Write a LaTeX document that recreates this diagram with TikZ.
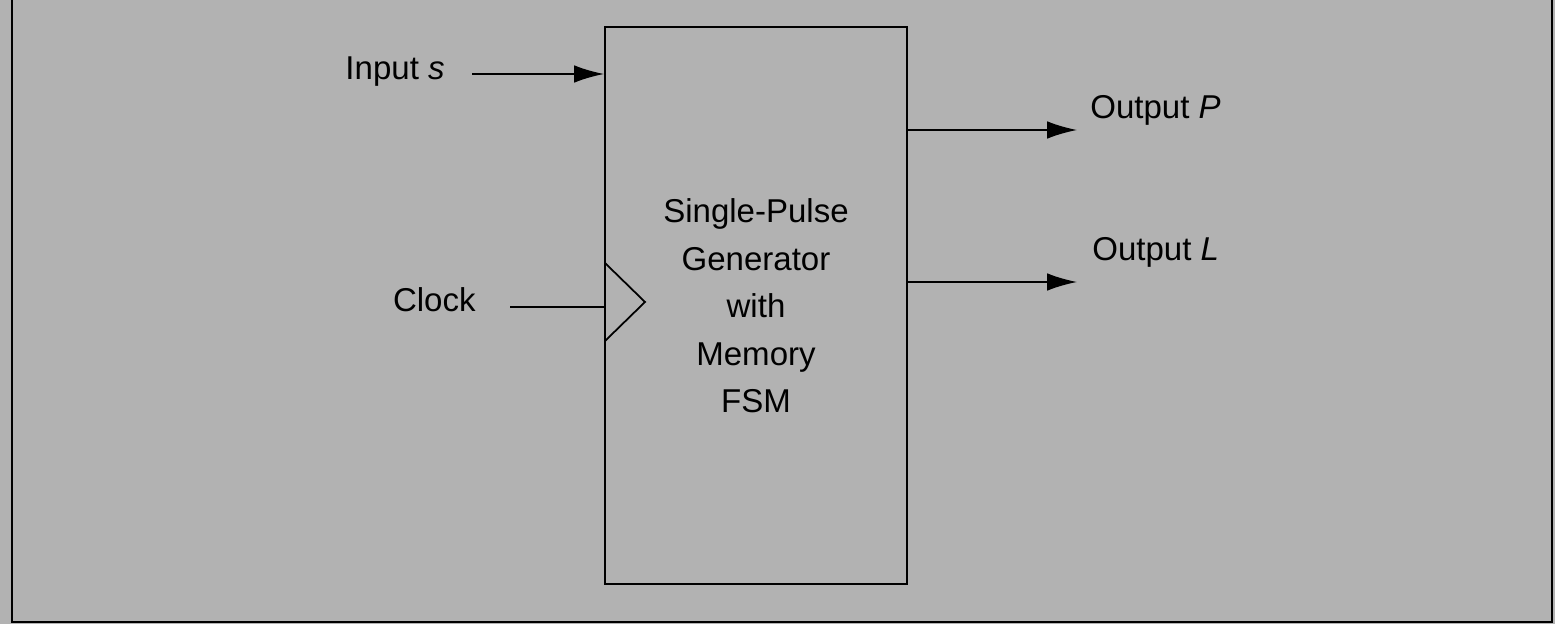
\documentclass[tikz,border=0pt]{standalone}
\usepackage{fontspec}
\setmainfont{Liberation Sans}
\usetikzlibrary{arrows.meta,positioning}
\tikzset{>={Latex[length=17pt,width=10pt]}}
\tikzset{lbl/.style={font=\fontsize{18.8}{27}\selectfont, inner sep=0pt}}
\begin{document}
\begin{tikzpicture}[x=0.02cm,y=-0.02cm]
    % Background
    \useasboundingbox (0,0) rectangle (1555,624);
    \fill[gray!60] (0,0) rectangle (1555,624);
    \draw[line width=1.2pt] (12,-5) rectangle (1552,622);

    % FSM box
    \draw[line width=1pt] (605,27) rectangle (907,584);
    \node[lbl, align=center] (fsm) at (756,306)
        {Single-Pulse\\Generator\\with\\Memory\\FSM};

    % Clock triangle
    \draw[line width=1pt] (605,263) -- (645,302) -- (605,341);

    % Inputs
    \node[lbl, anchor=east] (ins) at (445,72) {Input \textit{s}};
    \coordinate (insA) at (472,74);
    \coordinate (insB) at (604,74);
    \draw[->, line width=1pt] (insA) -- (insB);

    \node[lbl, anchor=east] (clk) at (476,300) {Clock};
    \coordinate (clkA) at (510,307);
    \coordinate (clkB) at (605,307);
    \draw[line width=1pt] (clkA) -- (clkB);

    % Outputs
    \coordinate (outPA) at (907,130);
    \coordinate (outPB) at (1077,130);
    \draw[->, line width=1pt] (outPA) -- (outPB);
    \node[lbl, anchor=west] (outP) at (1090,110) {Output \textit{P}};

    \coordinate (outLA) at (907,282);
    \coordinate (outLB) at (1077,282);
    \draw[->, line width=1pt] (outLA) -- (outLB);
    \node[lbl, anchor=west] (outL) at (1092,252) {Output \textit{L}};
\end{tikzpicture}
\end{document}
